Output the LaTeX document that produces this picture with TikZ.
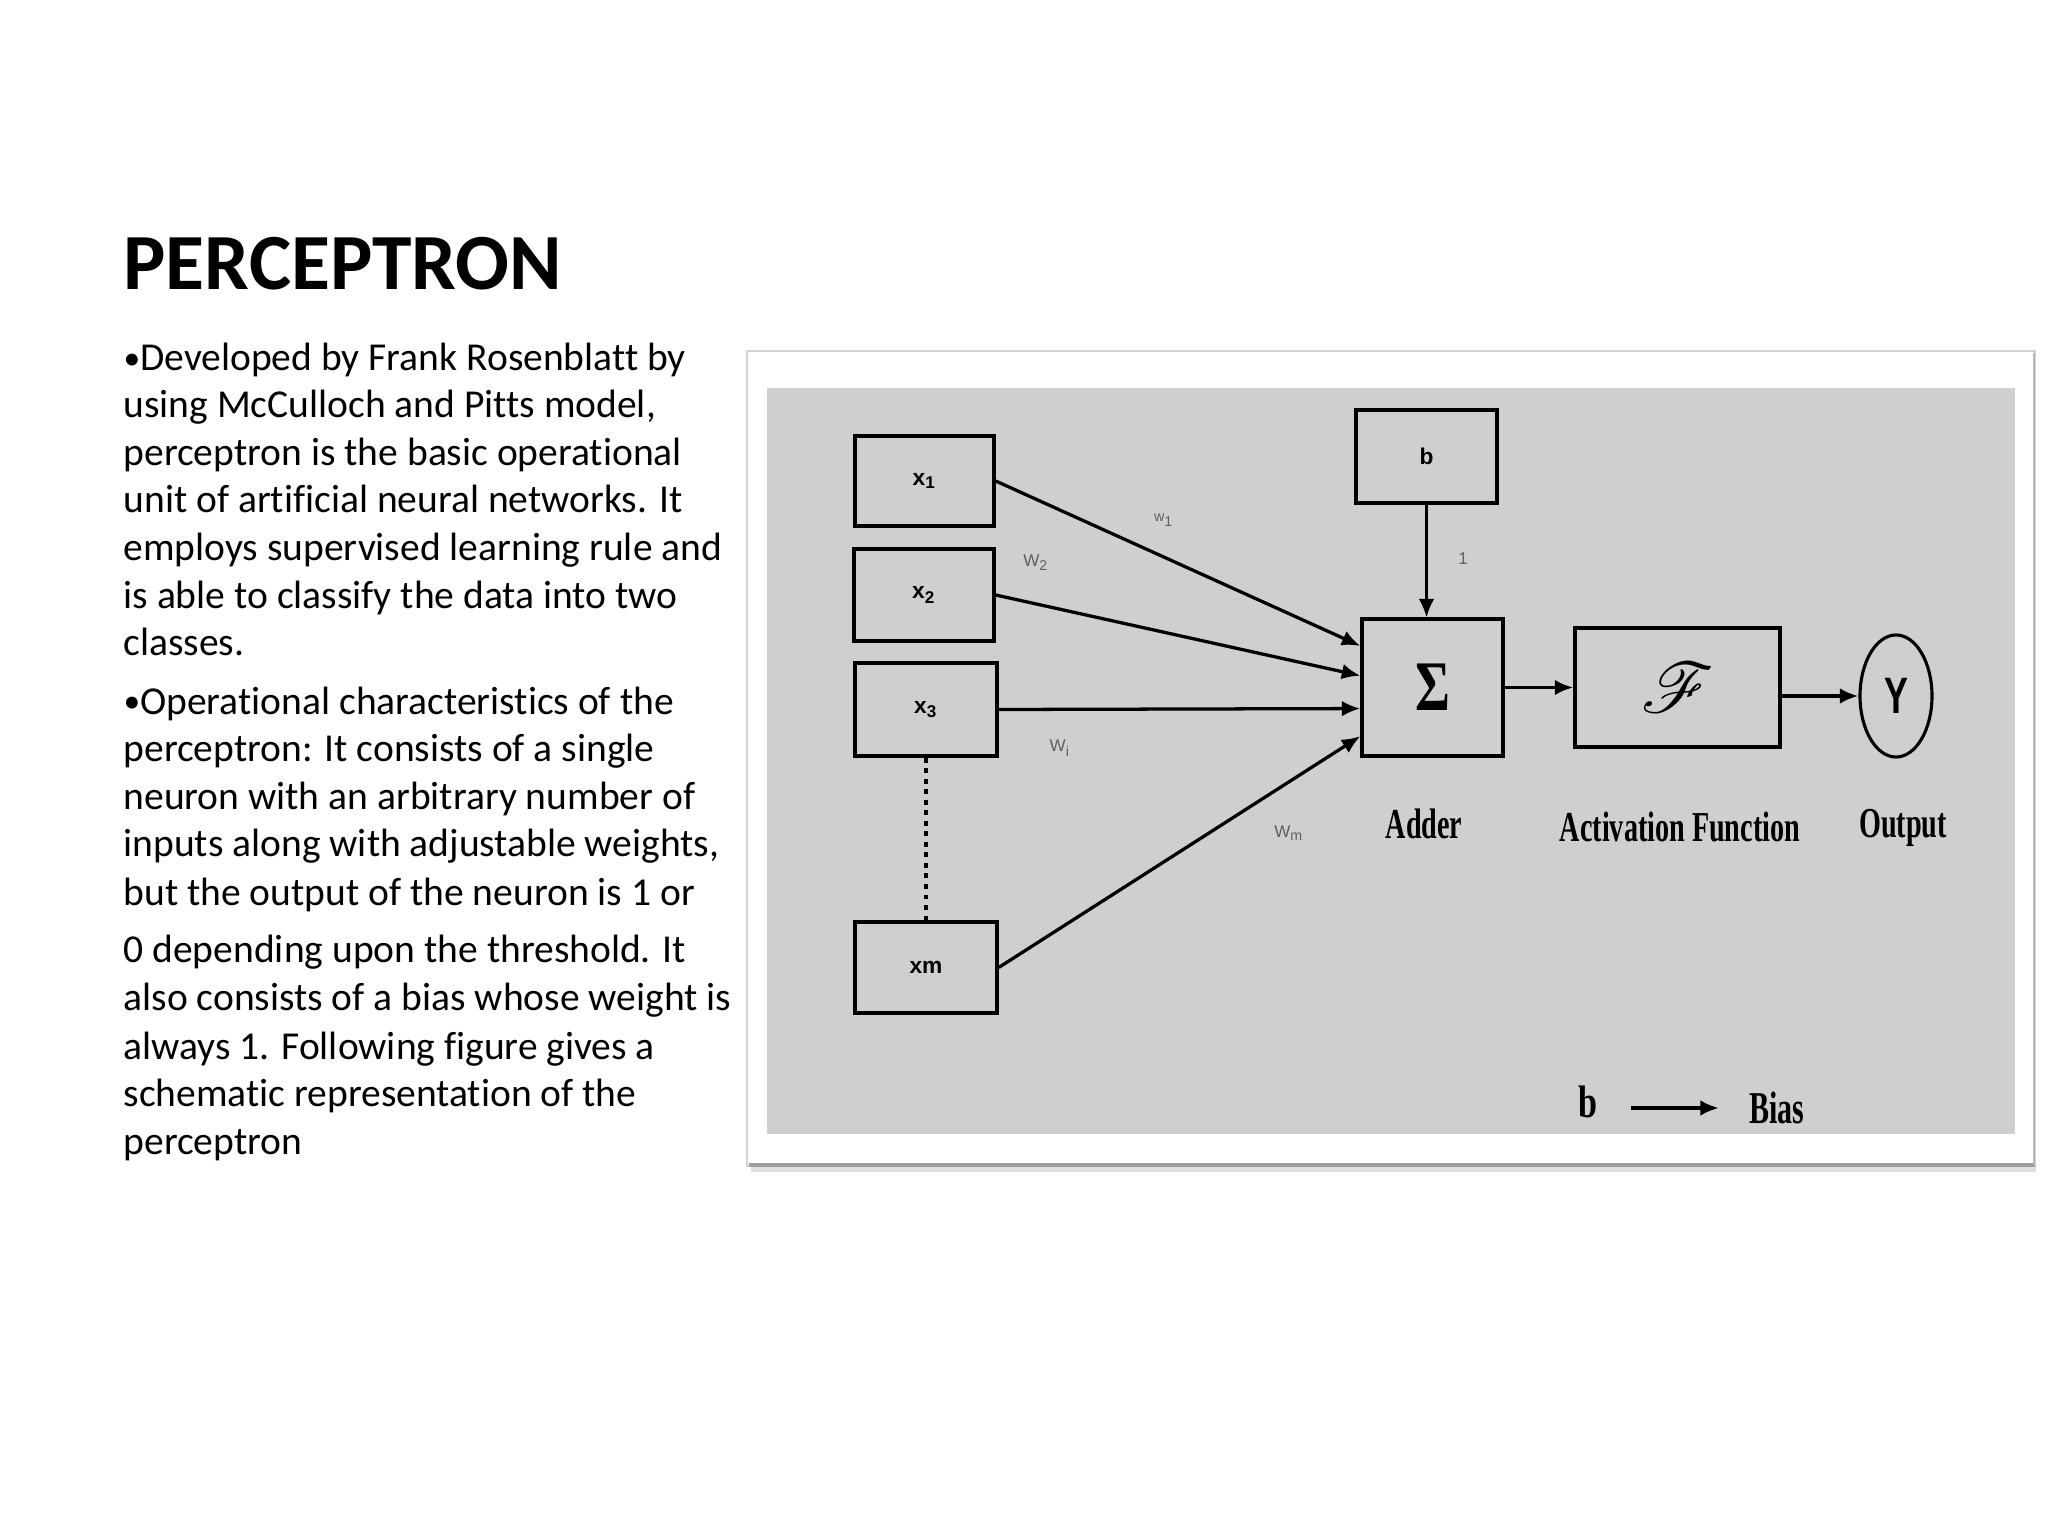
\documentclass[tikz,border=0pt]{standalone}
\usepackage{fontspec}
\usepackage{mathrsfs}
\setmainfont[Ligatures=NoCommon]{Carlito}
\newfontfamily\tnrfont{Liberation Serif}
\newfontfamily\arialfont{Liberation Sans}
\usetikzlibrary{shapes.geometric,arrows.meta,calc}
\definecolor{panelgray}{RGB}{207,207,207}
\definecolor{wgray}{RGB}{95,95,95}
\def\pxu{0.3515625pt}
\newcommand{\bul}{\raisebox{0.05em}{\scalebox{0.85}{•}}}
\begin{document}
\begin{tikzpicture}[x=\pxu,y=-\pxu,
  inbox/.style={draw=black, line width=1.2pt, inner sep=0pt, font=\arialfont\bfseries\fontsize{8}{9}\selectfont},
  bodyline/.style={anchor=base west, inner sep=0pt, font=\fontsize{13.9}{16}\selectfont},
  wlab/.style={text=wgray, inner sep=0pt, font=\arialfont\fontsize{6}{7}\selectfont},
  caplab/.style={inner sep=0pt, font=\tnrfont\bfseries\fontsize{15}{16}\selectfont},
  tip/.style={-{Latex[length=6.5pt,width=5.5pt]}},
  arr/.style={line width=1.15pt, tip}
]
\useasboundingbox (0,0) rectangle (2048,1536);
\fill[white] (0,0) rectangle (2048,1536);

% title and text
\node[anchor=base west, inner sep=0pt, font=\bfseries\fontsize{28}{30}\selectfont] (title) at (123,290) {PERCEPTRON};
\node[bodyline] (l1) at (123,371) {\bul Developed by Frank Rosenblatt by};
\node[bodyline] (l2) at (123,418) {using McCulloch and Pitts model,};
\node[bodyline] (l3) at (123,466) {perceptron is the basic operational};
\node[bodyline] (l4) at (123,513) {unit of artificial neural networks. It};
\node[bodyline] (l5) at (123,561) {employs supervised learning rule and};
\node[bodyline] (l6) at (123,609) {is able to classify the data into two};
\node[bodyline] (l7) at (123,656) {classes.};
\node[bodyline] (m1) at (123,714) {\bul Operational characteristics of the};
\node[bodyline] (m2) at (123,761) {perceptron: It consists of a single};
\node[bodyline] (m3) at (123,809) {neuron with an arbitrary number of};
\node[bodyline] (m4) at (123,856) {inputs along with adjustable weights,};
\node[bodyline] (m5) at (123,905) {but the output of the neuron is 1 or};
\node[bodyline] (m6) at (123,962) {0 depending upon the threshold. It};
\node[bodyline] (m7) at (123,1010) {also consists of a bias whose weight is};
\node[bodyline] (m8) at (123,1059) {always 1. Following figure gives a};
\node[bodyline] (m9) at (123,1106) {schematic representation of the};
\node[bodyline] (m10) at (123,1154) {perceptron};

% frame
\draw[gray!25, line width=2pt] (751,1169) -- (2036,1169);
\draw[gray!35, line width=0.8pt, fill=white] (747,351) rectangle (2035,1166);
\draw[gray!75, line width=1.2pt] (749,1165) -- (2035,1165);
\draw[gray!55, line width=1pt] (2034,353) -- (2034,1165);
\fill[panelgray] (767,388) rectangle (2015,1134);

% boxes
\node[inbox, minimum width=139*\pxu, minimum height=90*\pxu] (x1) at (924.5,481) {x\textsubscript{1}};
\node[inbox, minimum width=140*\pxu, minimum height=92*\pxu] (x2) at (924,595) {x\textsubscript{2}};
\node[inbox, minimum width=142*\pxu, minimum height=93*\pxu] (x3) at (926,709.5) {x\textsubscript{3}};
\node[inbox, minimum width=142*\pxu, minimum height=91*\pxu] (xm) at (926,967.5) {xm};
\node[inbox, minimum width=141*\pxu, minimum height=93*\pxu] (b) at (1426.5,456.5) {b};
\node[inbox, minimum width=141*\pxu, minimum height=137*\pxu, font=\tnrfont\bfseries\fontsize{25}{27}\selectfont] (sum) at (1432.5,687.5) {\scalebox{0.75}[1]{Σ}};
\node[inbox, minimum width=205*\pxu, minimum height=119*\pxu] (F) at (1677.5,687.5) {\fontsize{31}{33}\selectfont$\mathscr{F}$};
\node[ellipse, draw=black, line width=1.1pt, inner sep=0pt, minimum width=72*\pxu, minimum height=122*\pxu, font=\arialfont\bfseries\fontsize{18}{20}\selectfont] (Y) at (1896,696) {\scalebox{0.7}[1]{Y}};

% connectors
\coordinate (s1) at ($(sum.north west)!0.204!(sum.south west)$);
\coordinate (s2) at ($(sum.north west)!0.416!(sum.south west)$);
\coordinate (s3) at ($(sum.north west)!0.65!(sum.south west)$);
\coordinate (s4) at ($(sum.north west)!0.847!(sum.south west)$);
\draw[arr] (x1.east) -- (s1);
\draw[arr] (x2.east) -- (s2);
\draw[arr] (x3.east) -- (s3);
\draw[arr] (xm.east) -- (s4);
\draw[line width=0.8pt, tip] (b.south) -- (b.south |- sum.north);
\draw[arr, line width=1.4pt] (sum.east) -- (F.west);
\draw[arr, line width=1.4pt] (F.east |- Y.west) -- (Y.west);
\draw[line width=1.7pt, dotted] (x3.south) -- (xm.north);

% weight labels
\node[wlab, font=\arialfont\fontsize{5}{6}\selectfont] (w1) at (1164,520) {w\textsubscript{1}};
\node[wlab] (w2) at (1036,563) {W\textsubscript{2}};
\node[wlab] (wi) at (1060,748) {W\textsubscript{i}};
\node[wlab] (wm) at (1289,833) {W\textsubscript{m}};
\node[wlab] (one) at (1463,559) {1};

% captions
\node[caplab] (adder) at (1424,824) {\scalebox{0.66}[1]{Adder}};
\node[caplab] (act) at (1680,827) {\scalebox{0.66}[1]{Activation Function}};
\node[caplab] (out) at (1903,828) {\scalebox{0.66}[1]{Output}};
\node[caplab, font=\tnrfont\bfseries\fontsize{16}{17}\selectfont] (bl) at (1588,1102) {\scalebox{0.75}[1]{b}};
\node[caplab, font=\tnrfont\bfseries\fontsize{16}{17}\selectfont] (bias) at (1777,1108) {\scalebox{0.66}[1]{Bias}};
\draw[line width=1.2pt, tip] ([xshift=33*\pxu]bl.east |- bias.center) -- ([xshift=-30*\pxu]bias.west);
\end{tikzpicture}
\end{document}
